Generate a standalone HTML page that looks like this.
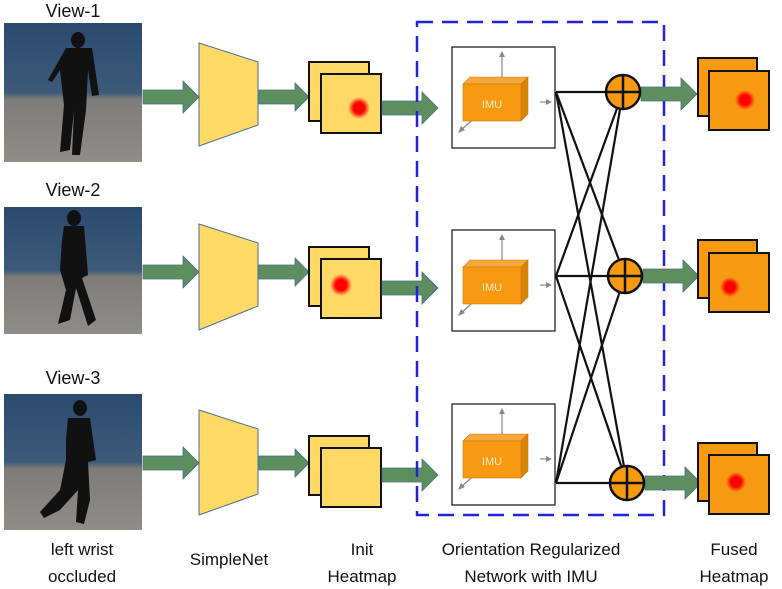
<!DOCTYPE html>
<html><head><meta charset="utf-8"><style>
body{margin:0;background:#fff}
svg{display:block}
text{font-family:"Liberation Sans",sans-serif;fill:#111}
</style></head><body>
<svg width="782" height="589" viewBox="0 0 782 589" xmlns="http://www.w3.org/2000/svg">
<defs>
<linearGradient id="ph" x1="0" y1="0" x2="0" y2="1">
<stop offset="0" stop-color="#2b4a6e"/><stop offset="0.5" stop-color="#3d5a78"/><stop offset="0.55" stop-color="#7d7c78"/><stop offset="1" stop-color="#8f8d88"/>
</linearGradient>
<radialGradient id="dot"><stop offset="0.5" stop-color="#f00"/><stop offset="1" stop-color="#f00" stop-opacity="0"/></radialGradient>
<g id="arrow"><polygon points="0,-7 40,-7 40,-16 56,0 40,16 40,7 0,7" fill="#5e8e5e" stroke="#4a6f8f" stroke-width="0.8"/></g>
<g id="arrowS"><polygon points="0,-7 36,-7 36,-14 50,0 36,14 36,7 0,7" fill="#5e8e5e" stroke="#4a6f8f" stroke-width="0.8"/></g>
<g id="imu">
<rect x="0" y="0" width="103" height="101" fill="#fff" stroke="#222" stroke-width="1.3"/>
<line x1="50" y1="35" x2="50" y2="8" stroke="#888" stroke-width="1.2"/><polygon points="47,10 50,4 53,10" fill="#888"/>
<line x1="88" y1="55" x2="96" y2="55" stroke="#888" stroke-width="1.2"/><polygon points="94,52 100,55 94,58" fill="#888"/>
<line x1="28" y1="66" x2="8" y2="84" stroke="#888" stroke-width="1.2"/><polygon points="6,86 9,79 13,83" fill="#888"/>
<polygon points="11,37 18,30 76,30 69,37" fill="#f7a83a" stroke="#c97a10" stroke-width="0.6"/>
<polygon points="69,37 76,30 76,67 69,74" fill="#d98308" stroke="#c97a10" stroke-width="0.6"/>
<rect x="11" y="37" width="58" height="37" fill="#f79a12" stroke="#c97a10" stroke-width="0.6"/>
<text x="40" y="61" font-size="11" text-anchor="middle" style="fill:#fde9c8">IMU</text>
</g>
<g id="plus"><circle r="17" fill="#f79a12" stroke="#111" stroke-width="2.5"/><line x1="-17" y1="0" x2="17" y2="0" stroke="#111" stroke-width="2.5"/><line x1="0" y1="-17" x2="0" y2="17" stroke="#111" stroke-width="2.5"/></g>
</defs>

<!-- labels -->
<text x="73" y="17" font-size="18" text-anchor="middle">View-1</text>
<text x="73" y="196" font-size="18" text-anchor="middle">View-2</text>
<text x="73" y="384" font-size="18" text-anchor="middle">View-3</text>

<!-- photos -->
<rect x="4" y="23" width="138" height="139" fill="url(#ph)"/>
<rect x="4" y="207" width="138" height="127" fill="url(#ph)"/>
<rect x="4" y="394" width="138" height="136" fill="url(#ph)"/>
<g fill="#111">
<ellipse cx="78" cy="40" rx="7" ry="8"/><path d="M66,48 L92,48 L99,95 L92,96 L88,70 L86,110 L80,155 L72,155 L74,110 L70,150 L60,152 L64,105 L60,70 L52,82 L48,80 Z"/>
<ellipse cx="74" cy="218" rx="7" ry="8"/><path d="M64,226 L84,226 L88,275 L82,278 L96,320 L88,326 L76,288 L70,320 L58,324 L66,290 L60,270 L62,240 Z"/>
<ellipse cx="80" cy="408" rx="7" ry="8"/><path d="M68,418 L90,418 L96,460 L88,462 L90,500 L84,524 L76,522 L78,490 L60,510 L44,518 L40,512 L60,490 L66,460 L66,440 Z"/>
</g>

<!-- trapezoids -->
<polygon points="199,43 258,62 258,125 199,146" fill="#ffd966" stroke="#4a6f8f" stroke-width="1"/>
<polygon points="199,224 258,243 258,306 199,330" fill="#ffd966" stroke="#4a6f8f" stroke-width="1"/>
<polygon points="199,410 258,429 258,494 199,515" fill="#ffd966" stroke="#4a6f8f" stroke-width="1"/>

<!-- arrows photo->trap, trap->heat -->
<use href="#arrow" x="143" y="97"/><use href="#arrowS" x="259" y="97"/>
<use href="#arrow" x="143" y="272"/><use href="#arrowS" x="259" y="272"/>
<use href="#arrow" x="143" y="463"/><use href="#arrowS" x="259" y="463"/>

<!-- init heatmaps -->
<g fill="#ffd966" stroke="#111" stroke-width="2">
<rect x="309" y="62" width="60" height="59"/><rect x="321" y="74" width="60" height="59"/>
<rect x="309" y="247" width="60" height="59"/><rect x="321" y="259" width="60" height="59"/>
<rect x="309" y="436" width="60" height="59"/><rect x="321" y="448" width="60" height="59"/>
</g>
<circle cx="359" cy="108" r="11" fill="url(#dot)"/>
<circle cx="341" cy="285" r="11" fill="url(#dot)"/>

<use href="#arrow" x="382" y="108"/>
<use href="#arrow" x="382" y="288"/>
<use href="#arrow" x="382" y="475"/>

<!-- dashed box -->
<rect x="417" y="22" width="247" height="493" fill="none" stroke="#2222dd" stroke-width="2.5" stroke-dasharray="16,9"/>

<use href="#imu" x="452" y="47"/>
<use href="#imu" x="452" y="230"/>
<use href="#imu" x="452" y="404"/>

<!-- connection lines -->
<g stroke="#111" stroke-width="2.2">
<line x1="556" y1="92" x2="608" y2="92"/><line x1="556" y1="92" x2="625" y2="276"/><line x1="556" y1="92" x2="627" y2="483"/>
<line x1="556" y1="276" x2="623" y2="92"/><line x1="556" y1="276" x2="608" y2="276"/><line x1="556" y1="276" x2="627" y2="483"/>
<line x1="556" y1="483" x2="623" y2="92"/><line x1="556" y1="483" x2="625" y2="276"/><line x1="556" y1="483" x2="610" y2="483"/>
</g>

<use href="#arrow" x="641" y="94"/>
<use href="#arrow" x="643" y="276"/>
<use href="#arrow" x="645" y="483"/>

<use href="#plus" x="623" y="92"/>
<use href="#plus" x="625" y="276"/>
<use href="#plus" x="627" y="483"/>

<!-- fused heatmaps -->
<g fill="#f79a12" stroke="#111" stroke-width="2">
<rect x="698" y="58" width="59" height="58"/><rect x="709" y="71" width="60" height="59"/>
<rect x="698" y="240" width="59" height="58"/><rect x="709" y="253" width="60" height="59"/>
<rect x="698" y="443" width="59" height="58"/><rect x="709" y="455" width="60" height="59"/>
</g>
<circle cx="745" cy="100" r="10" fill="url(#dot)"/>
<circle cx="730" cy="287" r="10" fill="url(#dot)"/>
<circle cx="736" cy="482" r="10" fill="url(#dot)"/>

<!-- bottom labels -->
<g font-size="17" text-anchor="middle">
<text x="82" y="555">left wrist</text><text x="82" y="582">occluded</text>
<text x="229" y="565">SimpleNet</text>
<text x="362" y="555">Init</text><text x="362" y="582">Heatmap</text>
<text x="531" y="555">Orientation Regularized</text><text x="531" y="582">Network with IMU</text>
<text x="734" y="555">Fused</text><text x="734" y="582">Heatmap</text>
</g>
</svg>
</body></html>
